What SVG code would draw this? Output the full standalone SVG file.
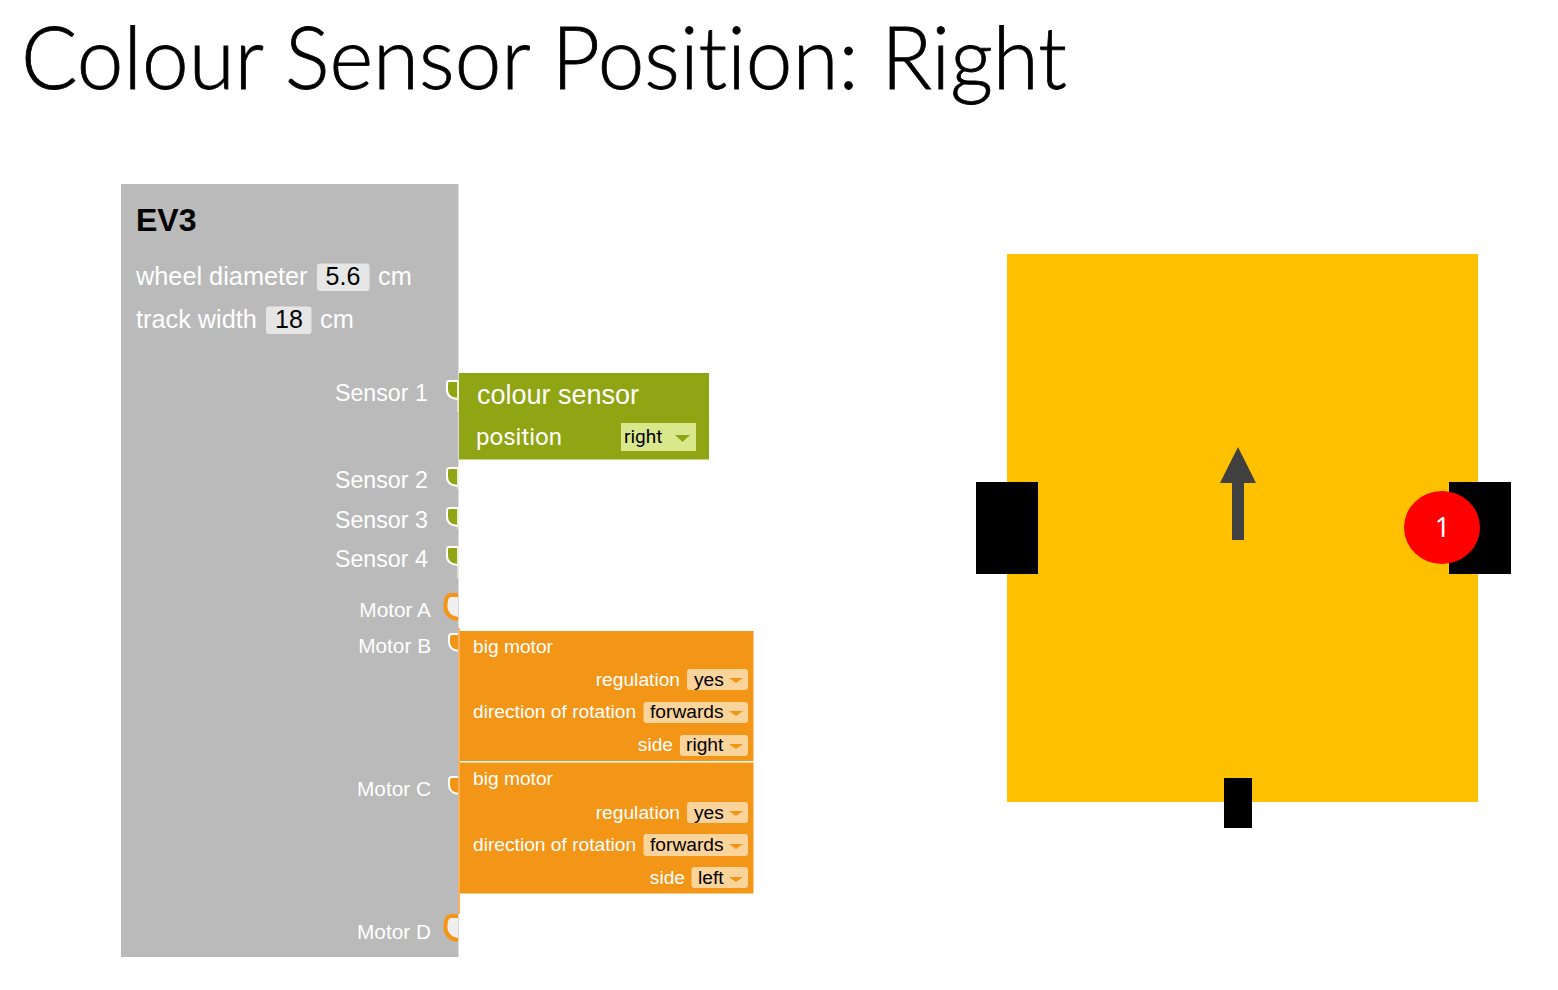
<svg xmlns="http://www.w3.org/2000/svg" width="1558" height="990" viewBox="0 0 1558 990">
<style>
text{font-family:"Liberation Sans",Arial,sans-serif}
.w{fill:#fff;font-size:25.300px}
.s{fill:#fff;font-size:23.200px}
.t{fill:#fff;font-size:20.800px}
.m{fill:#fff;font-size:19.200px}
.d{fill:#000;font-size:19.200px}
.f{fill:#fbd49c}
.a{fill:#f39516}
.c{fill:#8fa514;stroke:#fff;stroke-width:2}
.o{fill:#efefef;stroke:#f39516;stroke-width:4}
.p{fill:#f39516;stroke:#fff;stroke-width:2}
</style>
<rect width="1558" height="990" fill="#fff"/>
<text id="title" x="21" y="89" font-size="86" textLength="1046" lengthAdjust="spacingAndGlyphs" stroke="#000" stroke-width="0.800" style="font-family:Lato,'Open Sans',sans-serif;font-weight:300;font-variant-ligatures:none" fill="#000">Colour Sensor Position: Right</text>
<g id="ev3">
<rect x="121" y="184" width="337.500" height="773" fill="#bababa"/>
<text x="136" y="231" font-size="32" font-weight="700" fill="#000">EV3</text>
<text class="w" x="136" y="285">wheel diameter</text>
<rect x="317" y="263.500" width="52.500" height="27.500" rx="3" fill="#e6e6e6"/>
<text x="343" y="285" text-anchor="middle" font-size="25" fill="#000">5.6</text>
<text class="w" x="378" y="285">cm</text>
<text class="w" x="136" y="328">track width</text>
<rect x="266" y="306.500" width="45.500" height="27.500" rx="3" fill="#e6e6e6"/>
<text x="289" y="328" text-anchor="middle" font-size="25" fill="#000">18</text>
<text class="w" x="320" y="328">cm</text>
</g>
<g id="ports">
<text class="s" x="335" y="401">Sensor 1</text>
<text class="s" x="335" y="488">Sensor 2</text>
<text class="s" x="335" y="528">Sensor 3</text>
<text class="s" x="335" y="567">Sensor 4</text>
<text class="t" x="431" y="616.500" text-anchor="end">Motor A</text>
<text class="t" x="431" y="652.500" text-anchor="end">Motor B</text>
<text class="t" x="431" y="795.500" text-anchor="end">Motor C</text>
<text class="t" x="431" y="938.500" text-anchor="end">Motor D</text>
<g class="c">
<path d="M458 381H449Q447 381 447 384V390Q447 398 458 399Z"/>
<path d="M458 468H449Q447 468 447 471V477Q447 485 458 486Z"/>
<path d="M458 508H449Q447 508 447 511V517Q447 525 458 526Z"/>
<path d="M458 547H449Q447 547 447 550V556Q447 564 458 565Z"/>
</g>
<path d="M458 380V412M458 468V489M458 508V529M458 547V578" stroke="#e9eed0" stroke-width="1.500" fill="none"/>
<path class="o" d="M458 595H451Q446 595 445.500 604Q444.500 617 458 619"/>
<path class="o" d="M458 916H451Q446 916 445.500 925Q444.500 938 458 940"/>
<path class="p" d="M459 634H452Q449 634 449 637V642Q449 650 459 651Z"/>
<path class="p" d="M459 777H452Q449 777 449 780V785Q449 793 459 794Z"/>
<rect x="458" y="628" width="2" height="286" fill="#f9b060"/>
</g>
<g id="colour-sensor">
<rect x="459" y="373" width="250" height="86.500" fill="#8fa514"/>
<text x="477" y="404" font-size="27" fill="#fff">colour sensor</text>
<text x="476" y="445" font-size="24" fill="#fff" style="font-family:'Roboto',sans-serif">position</text>
<rect x="621" y="423" width="75" height="28" fill="#d9e88a"/>
<text x="624" y="443" font-size="19" fill="#000" style="font-family:'Roboto',sans-serif">right</text>
<path d="M675 435H690L682.500 442Z" fill="#8fa514"/>
</g>
<g id="motor-right">
<rect x="460" y="631" width="293.500" height="130" class="a"/>
<text class="m" x="473" y="653">big motor</text>
<text class="m" x="680" y="686" text-anchor="end">regulation</text>
<rect x="687" y="669" width="61" height="21" rx="3" class="f"/>
<text class="d" x="694" y="686">yes</text>
<path d="M729 678H743L736 683Z" class="a"/>
<text class="m" x="473" y="718">direction of rotation</text>
<rect x="643.500" y="702" width="104.500" height="21" rx="3" class="f"/>
<text class="d" x="650" y="718">forwards</text>
<path d="M729 711H743L736 716Z" class="a"/>
<text class="m" x="673" y="751" text-anchor="end">side</text>
<rect x="680" y="735" width="68" height="21" rx="3" class="f"/>
<text class="d" x="686" y="751">right</text>
<path d="M729 744H743L736 749Z" class="a"/>
</g>
<rect x="460" y="761" width="293.500" height="1.500" fill="#fff"/>
<g id="motor-left">
<rect x="460" y="762.500" width="293.500" height="131" class="a"/>
<text class="m" x="473" y="785">big motor</text>
<text class="m" x="680" y="819" text-anchor="end">regulation</text>
<rect x="687" y="802" width="61" height="21" rx="3" class="f"/>
<text class="d" x="694" y="819">yes</text>
<path d="M729 811H743L736 816Z" class="a"/>
<text class="m" x="473" y="851">direction of rotation</text>
<rect x="643.500" y="834" width="104.500" height="22" rx="3" class="f"/>
<text class="d" x="650" y="851">forwards</text>
<path d="M729 844H743L736 849Z" class="a"/>
<text class="m" x="685" y="884" text-anchor="end">side</text>
<rect x="691.500" y="867" width="56.500" height="21" rx="3" class="f"/>
<text class="d" x="698" y="884">left</text>
<path d="M729 877H743L736 882Z" class="a"/>
</g>
<g id="robot">
<rect x="976" y="482" width="62" height="92" fill="#000"/>
<rect x="1449" y="482" width="62" height="92" fill="#000"/>
<path d="M1007 254H1478V482H1449V574H1478V802H1007V574H1038V482H1007Z" fill="#ffc000"/>
<rect x="1224" y="778" width="28" height="50" fill="#000"/>
<path d="M1232 540V483H1220L1238 447L1256 483H1244V540Z" fill="#404040"/>
</g>
<g id="sensor-1">
<ellipse cx="1442" cy="527.500" rx="38" ry="36.500" fill="#f00"/>
<text x="1442.500" y="537" text-anchor="middle" font-size="27" fill="#fff" style="font-family:'Noto Sans',sans-serif">1</text>
</g>
</svg>
